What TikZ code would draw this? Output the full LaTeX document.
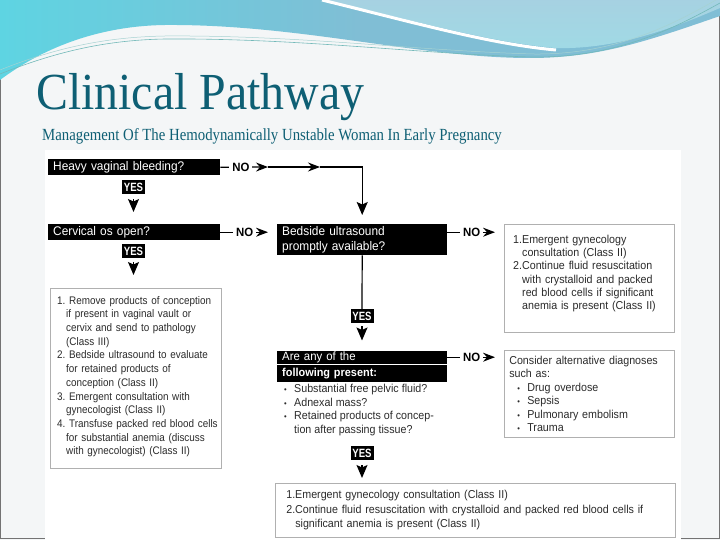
\documentclass[tikz,border=0pt]{standalone}
\usepackage{fontspec}
\setmainfont{Liberation Serif}
\newfontfamily\titlefont[FakeStretch=0.92]{Liberation Serif}
\newfontfamily\subfont[FakeStretch=0.87]{Liberation Serif}
\newfontfamily\chartfont[FakeStretch=0.95]{Liberation Sans}
\newfontfamily\bodyfont[FakeStretch=0.9]{Liberation Sans}
\newfontfamily\notefont[FakeStretch=0.93]{Liberation Sans}
\newfontfamily\yesfont[FakeStretch=0.8]{Liberation Sans}
\usepackage{tikz}
\usetikzlibrary{arrows.meta,calc,positioning}
\definecolor{titlecol}{HTML}{0E5F74}
\definecolor{slidebg}{HTML}{F4F6F7}
\definecolor{waveblue}{HTML}{80BED5}
\definecolor{wavecyan}{HTML}{5ED4E2}
\definecolor{wavelight}{HTML}{A0DAE5}
\definecolor{boxline}{HTML}{B0B0B0}
\definecolor{bodycol}{HTML}{2B2B2B}
\newcommand{\ind}{\hspace*{9pt}}
\newcommand{\bul}{\makebox[10pt][l]{\scalebox{0.7}{\textbullet}}}
\frenchspacing

\begin{document}
\begin{tikzpicture}[x=1pt, y=-1pt,
        line cap=butt, line join=miter,
        qbox/.style={fill=black, text=white, anchor=north west,
            font=\chartfont\fontsize{12.5}{15}\selectfont,
            inner xsep=5pt, inner ysep=0pt, minimum height=16pt,
            text width=162pt, align=left},
        yesbox/.style={fill=black, text=white, inner sep=0pt,
            font=\yesfont\bfseries\fontsize{12}{12}\selectfont,
            minimum width=23pt, minimum height=14pt},
        listbox/.style={draw=boxline, line width=0.6pt, fill=white, anchor=north west,
            text=bodycol, font=\notefont\fontsize{11.5}{13.4}\selectfont,
            inner xsep=9pt, inner ysep=0pt, align=left},
        nolab/.style={fill=white, inner xsep=3pt, inner ysep=1pt, pos=0.43,
            font=\chartfont\bfseries\fontsize{12}{12}\selectfont},
        flowline/.style={black, line width=1.2pt},
        noline/.style={flowline, -{Stealth[length=12pt, width=9pt, inset=4pt]}},
        downline/.style={flowline, -{Stealth[length=13pt, width=11pt, inset=2.5pt]}},
        yesarrow/.style={downline}]
        \useasboundingbox (0,0) rectangle (720,540);

        % SLIDE BACKGROUND
        \fill[slidebg] (0,0) rectangle (720,540);
        \draw[black!55, line width=1pt] (0.5,0) -- (0.5,538.5) -- (719.5,538.5) -- (719.5,0);

        % WAVES
        \shade[left color=wavecyan, right color=waveblue, middle color=waveblue]
            (0,0) -- (720,0) -- (720,16)
            .. controls (650,40) and (600,58) .. (530,58)
            .. controls (420,58) and (300,24) .. (165,25)
            .. controls (95,26) and (40,50) .. (0,80) -- cycle;
        \shade[top color=waveblue!70, bottom color=wavelight]
            (325,0) .. controls (420,22) and (490,42) .. (555,48)
            .. controls (620,50) and (680,25) .. (720,8) -- (720,0) -- cycle;
        \draw[white, line width=3pt] (322,0) .. controls (420,24) and (490,44) .. (556,50);
        \draw[teal!55, line width=0.6pt] (0,74) .. controls (60,50) and (110,40) .. (165,39)
            .. controls (300,38) and (420,54) .. (532,57) .. controls (620,58) and (680,25) .. (720,3);
        \draw[teal!35, line width=0.5pt] (0,70) .. controls (60,46) and (110,37) .. (165,36)
            .. controls (300,35) and (420,51) .. (534,54) .. controls (620,55) and (680,20) .. (716,0);

        % TITLES
        \node[anchor=base west, inner sep=0pt, text=titlecol,
            font=\titlefont\fontsize{52}{54}\selectfont] (title) at (36,110) {Clinical Pathway};
        \node[anchor=base west, inner sep=0pt, text=titlecol,
            font=\subfont\fontsize{17}{18}\selectfont] (subtitle) at (42,141)
            {Management Of The Hemodynamically Unstable Woman In Early Pregnancy};

        % CHART PANEL
        \fill[white] (45,150) rectangle (681,540);

        % QUESTIONS
        \node[qbox] (heavy) at (48,159) {Heavy vaginal bleeding?};
        \node[yesbox] (yesa) at (133.5,187) {YES};
        \node[qbox] (cerv) at (48,224) {Cervical os open?};
        \node[yesbox] (yesb) at (133.5,251) {YES};
        \node[qbox, text width=160pt, minimum height=31pt] (bed) at (277,224)
            {Bedside ultrasound\\promptly available?};
        \node[yesbox] (yesc) at (362,316) {YES};
        \node[qbox, text width=160pt, minimum height=13pt, font=\chartfont\fontsize{12}{13}\selectfont] (are)
            at (277,350.5) {Are any of the};
        \node[qbox, text width=160pt, minimum height=17pt, font=\chartfont\bfseries\fontsize{11.5}{13}\selectfont] (arep)
            at (277,365) {following present:};
        \node[anchor=north west, inner sep=0pt, align=left, text=bodycol,
            font=\notefont\fontsize{11.5}{13.6}\selectfont] (arelist) at (284,384)
            {\bul Substantial free pelvic fluid?\\
             \bul Adnexal mass?\\
             \bul Retained products of concep-\\
             \hspace*{10pt}tion after passing tissue?};
        \node[yesbox] (yesd) at (362,453) {YES};

        % ANSWERS
        \node[anchor=north west, inner xsep=7pt, inner ysep=8pt, text width=166pt, align=left,
            text=bodycol, font=\bodyfont\fontsize{11}{13.7}\selectfont] (remove) at (50,288)
            {1. Remove products of conception\\
             \ind if present in vaginal vault or\\
             \ind cervix and send to pathology\\
             \ind (Class III)\\
             2. Bedside ultrasound to evaluate\\
             \ind for retained products of\\
             \ind conception (Class II)\\
             3. Emergent consultation with\\
             \ind gynecologist (Class II)\\
             4. Transfuse packed red blood cells\\
             \ind for substantial anemia (discuss\\
             \ind with gynecologist) (Class II)};
        \draw[boxline, line width=0.6pt] (remove.north west) rectangle (221,468);
        \node[anchor=north west, inner xsep=9pt, inner ysep=11pt, text width=152pt, align=left,
            text=bodycol, font=\notefont\fontsize{11.5}{13.2}\selectfont] (consult) at (504,224)
            {1.Emergent gynecology\\
             \ind consultation (Class II)\\
             2.Continue fluid resuscitation\\
             \ind with crystalloid and packed\\
             \ind red blood cells if significant\\
             \ind anemia is present (Class II)};
        \draw[boxline, line width=0.6pt] (consult.north west) rectangle (consult.east |- 0,332);
        \node[listbox, inner xsep=5pt, text width=160pt, minimum height=87pt] (altdx) at (504,350)
            {Consider alternative diagnoses\\
             such as:\\
             \hspace*{8pt}\bul Drug overdose\\
             \hspace*{8pt}\bul Sepsis\\
             \hspace*{8pt}\bul Pulmonary embolism\\
             \hspace*{8pt}\bul Trauma};
        \node[listbox, inner xsep=11pt, text width=378pt, minimum height=54pt,
            font=\notefont\fontsize{11.5}{14.4}\selectfont] (final) at (275,483)
            {1.Emergent gynecology consultation (Class II)\\
             2.Continue fluid resuscitation with crystalloid and packed red blood cells if\\
             \ind significant anemia is present (Class II)};

        % NO BRANCHES
        \coordinate (tipa) at (268,167);
        \coordinate (tipb) at (320,167);
        \draw[noline] (heavy.east) -- node[nolab]{NO} (tipa);
        \draw[noline] (tipa) -- (tipb);
        \draw[downline, shorten >=9pt] (tipb) -| (bed.north);
        \draw[noline, shorten >=9pt] (cerv.east) -- node[nolab]{NO} (bed.west |- cerv.east);
        \draw[noline, shorten >=9pt] (bed.east |- cerv.east) -- node[nolab]{NO} (consult.west |- cerv.east);
        \draw[noline, shorten >=9pt] (are.east) -- node[nolab]{NO} (altdx.west |- are.east);

        % YES BRANCHES
        \draw[yesarrow, shorten <=5pt, shorten >=12pt] (yesa.south) -- (cerv.north -| yesa.south);
        \draw[yesarrow, shorten <=4pt, shorten >=13pt] (yesb.south) -- (remove.north -| yesb.south);
        \draw[flowline] (bed.south) -- (yesc.north);
        \draw[yesarrow, shorten <=3pt, shorten >=10pt] (yesc.south) -- (are.north -| yesc.south);
        \draw[yesarrow, shorten <=5pt, shorten >=5pt] (yesd.south) -- (final.north -| yesd.south);
    \end{tikzpicture}
\end{document}
